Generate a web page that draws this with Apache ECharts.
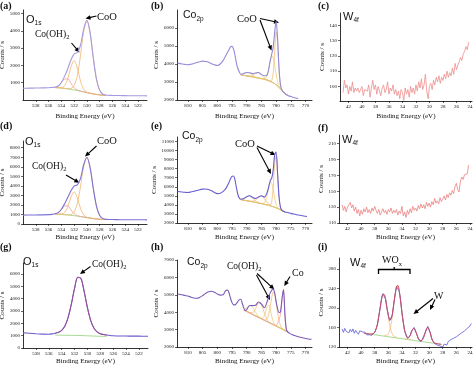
<!DOCTYPE html>
<html><head><meta charset="utf-8">
<script src="https://cdn.jsdelivr.net/npm/echarts@6/dist/echarts.min.js"></script>
<style>html,body{margin:0;padding:0;background:#fff;}#c{width:474px;height:368px;}</style>
</head><body><div id="c"></div>
<script>
// ---------- tick labels ----------
const o1sTicks = [538,536,534,532,530,528,526,524,522];
const co2pTicks = [810,805,800,795,790,785,780,775,770];
const w4fTicks = [42,40,38,36,34,32,30,28,26,24];
const aYTicks = [1000,2000,3000,4000,5000];
const bYTicks = [2000,3000,4000,5000,6000];
const cYTicks = [100,110,120,130,140];
const dYTicks = [0,1000,2000,3000,4000,5000,6000,7000,8000];
const eYTicks = [2000,3000,4000,5000,6000,7000,8000,9000,10000,11000];
const fYTicks = [110,130,150,170,190,210];
const gYTicks = [0,1000,2000,3000,4000,5000,6000];
const hYTicks = [2000,3000,4000,5000,6000,7000];
const iYTicks = [120,160,200,240,280];

// ---------- O1s energies ----------
const o1sE = [540,539,538,537,536,535.5,535,534.5,534,533.5,533,532.5,532,531.5,531,530.5,530,529.5,529,528.5,528,527.5,527,526.5,526,525,524,523,522,521,520.6];
const o1sFitE = [535,534.5,534,533.5,533,532.5,532,531.5,531,530.5,530,529.5,529,528.5,528,527.5,527];

// (a)
const aData = [680,685,690,700,710,725,738,806,1012,1364,1804,2314,2665,2744,3164,4108,4602,3880,2425,1191,559,334,278,270,265,258,252,248,245,242,240];
const aBg = [720,710,690,670,640,610,580,550,510,470,430,390,350,320,300,280,270];
const aCoO = [720,710,690,672,653,664,839,1421,2585,3960,4580,3880,2425,1191,559,334,278];
const aCoOH = [720,710,712,818,1216,1907,2280,1847,1086,618,452,390,350,320,300,280,270];
const aC3 = [738,806,990,1214,1215,963,706,576,513,470,430,390,350,320,300,280,270];

// (d)
const dData = [930,940,950,960,980,1010,1080,1190,1543,2105,2769,3488,3974,4105,4783,6236,7003,5918,3720,1853,894,562,483,470,465,455,450,445,440,438,435];
const dBg = [1050,1030,1010,980,950,910,870,830,780,720,670,620,570,530,500,480,470];
const dCoO = [1050,1030,1010,980,963,992,1264,2153,3930,6018,6970,5918,3720,1853,894,562,483];
const dCoOH = [1050,1030,1043,1198,1798,2818,3370,2738,1628,938,703,620,570,530,500,480,470];
const dC3 = [1080,1190,1510,1887,1908,1498,1080,874,785,720,670,620,570,530,500,480,470];

// (g)
const gData = [1230,1200,1160,1130,1120,1150,1204,1272,1426,1782,2471,3556,4833,5739,5637,4567,3275,2248,1621,1307,1157,1090,1051,1020,1000,980,970,965,960,958,955];
const gBg = [1050,1045,1040,1035,1030,1025,1020,1015,1010,1000,990,980,970,960,950,945,940];
const gPeak = [1204,1272,1426,1782,2471,3556,4833,5739,5637,4567,3275,2248,1621,1307,1157,1090,1051];

// (b)
const bDataE = [813.5,812,811,810,809,808,807,806,805,804,803,802,801,800,799,798,797,796,795.5,795,794.5,794,793.5,793,792.5,792,791,790,789,788,787,786,785,784,783,782,781.5,781,780.5,780,779.5,779,778.5,778,777.5,777,776,775,774,773,772.5];
const bData = [4050,4000,3980,3960,3990,4030,4080,4120,4160,4140,4100,4020,3960,3920,4000,4200,4500,4800,4950,4980,4850,4500,4050,3750,3550,3429,3470,3527,3514,3467,3499,3525,3410,3350,3405,4175,4547,4925,5750,6378,5405,3723,2822,2548,2440,2360,2250,2190,2140,2100,2080];
const bFitE = [792,791,790,789,788,787,786,785,784,783,782,781.5,781,780.5,780,779.5,779,778.5,778,777.5,777,776];
const bBg = [3400,3370,3340,3310,3280,3250,3220,3190,3150,3100,3040,3000,2960,2910,2850,2780,2700,2620,2530,2440,2360,2250];
const bP1 = [3400,3370,3340,3310,3280,3250,3220,3190,3150,3100,3040,3081,3500,4710,5808,5171,3651,2806,2548,2440,2360,2250];
const bP2 = [3400,3370,3340,3310,3280,3250,3220,3190,3173,3386,4173,4466,4385,3950,3420,3014,2772,2636,2530,2440,2360,2250];
const bP3 = [3400,3370,3342,3329,3367,3470,3520,3410,3237,3119,3042,3000,2960,2910,2850,2780,2700,2620,2530,2440,2360,2250];
const bP4 = [3429,3470,3525,3495,3380,3279,3225,3190,3150,3100,3040,3000,2960,2910,2850,2780,2700,2620,2530,2440,2360,2250];

// (e)
const eDataE = [813.5,812,811,810,809,808,807,806,805,804,803,802,801,800,799,798,797,796,795.5,795,794.5,794,793.5,793,792.5,792,791,790,789,788,787,786,785,784,783,782,781.5,781,780.5,780,779.5,779,778.5,778,777.5,777,776,775,774,773,772,771,770,769.5];
const eData = [5480,5420,5390,5370,5420,5500,5580,5680,5740,5760,5700,5560,5380,5250,5280,5500,5850,6500,6900,7150,7200,6800,5900,5150,4750,4617,4694,4901,5006,4834,4701,4872,5002,4863,5420,6661,6951,7817,9528,9831,7464,4865,3699,3393,3290,3220,3150,3060,2990,2920,2860,2800,2740,2720];
const eFitE = [792,791,790,789,788,787,786,785,784,783,782,781.5,781,780.5,780,779.5,779,778.5,778,777.5,777];
const eBg = [4580,4520,4460,4400,4340,4280,4210,4140,4070,3990,3900,3850,3800,3740,3680,3610,3530,3450,3370,3290,3220];
const eP1 = [4580,4520,4460,4400,4340,4280,4210,4140,4070,3990,3970,4366,5940,8502,9410,7334,4835,3699,3393,3290,3220];
const eP2 = [4580,4520,4460,4400,4340,4280,4210,4148,4238,5173,6538,6415,5671,4766,4101,3740,3560,3450,3370,3290,3220];
const eP3 = [4580,4520,4460,4406,4393,4527,4835,4990,4695,4237,3953,3870,3806,3740,3680,3610,3530,3450,3370,3290,3220];
const eP4 = [4617,4694,4901,5000,4781,4454,4247,4144,4070,3990,3900,3850,3800,3740,3680,3610,3530,3450,3370,3290,3220];

// (h)
const hDataE = [813.5,812,811,810,809,808,807,806,805,804,803,802,801,800,799,798,797.5,797,796.5,796,795.5,795,794.5,794,793.5,793,792.5,792,791.5,791,790.5,790,789,788,787,786,785,784,783,782.5,782,781.5,781,780.5,780,779.5,779,778.5,778,777.5,777,776.5,776,775.5,775,774,773,772,771,770,769,768];
const hData = [5050,5000,4960,4930,4870,4820,4800,4850,4950,5080,5180,5200,5150,5050,4980,5000,5150,5260,5270,5100,4800,4550,4430,4420,4500,4620,4720,4740,4500,4250,4100,4150,4384,4380,4399,4583,4472,4255,4628,4913,5111,5263,5324,5117,4606,4202,3969,4029,4774,5300,3850,2980,2862,2800,2740,2680,2620,2570,2530,2490,2460,2440];
const hFitE = [791,790,789,788,787,786,785,784,783,782.5,782,781.5,781,780.5,780,779.5,779,778.5,778,777.5,777,776.5,776];
const hBg = [4120,4050,3960,3870,3790,3710,3620,3540,3450,3410,3370,3330,3290,3250,3200,3160,3120,3080,3030,2990,2950,2900,2860];
const hP1 = [4120,4050,3960,3870,3790,3710,3620,3540,3635,3883,4320,4831,5154,5070,4597,4002,3519,3229,3074,3000,2950,2900,2860];
const hP2 = [4120,4050,3960,3870,3790,3710,3638,3797,4345,4403,4149,3762,3460,3297,3209,3160,3120,3080,3030,2990,2950,2900,2860];
const hP3 = [4120,4050,3972,3968,4196,4534,4444,3946,3548,3447,3382,3330,3290,3250,3200,3160,3120,3080,3030,2990,2950,2900,2860];
const hP4 = [4169,4253,4372,4282,3993,3759,3626,3540,3450,3410,3370,3330,3290,3250,3200,3160,3120,3080,3030,2990,2950,2900,2860];
const hCo = [4120,4050,3960,3870,3790,3710,3620,3540,3450,3410,3370,3330,3290,3250,3200,3360,3570,3880,4730,5290,3850,2980,2862];

// ---------- W4f ----------
const w4fE = [42.8,42.6,42.4,42.2,42.0,41.8,41.6,41.4,41.2,41.0,40.8,40.6,40.4,40.2,40.0,39.8,39.6,39.4,39.2,39.0,38.8,38.6,38.4,38.2,38.0,37.8,37.6,37.4,37.2,37.0,36.8,36.6,36.4,36.2,36.0,35.8,35.6,35.4,35.2,35.0,34.8,34.6,34.4,34.2,34.0,33.8,33.6,33.4,33.2,33.0,32.8,32.6,32.4,32.2,32.0,31.8,31.6,31.4,31.2,31.0,30.8,30.6,30.4,30.2,30.0,29.8,29.6,29.4,29.2,29.0,28.8,28.6,28.4,28.2,28.0,27.8,27.6,27.4,27.2,27.0,26.8,26.6,26.4,26.2,26.0,25.8,25.6,25.4,25.2,25.0,24.8,24.6,24.4,24.2,24.0,23.8];
const cData = [96,104,99,101,95, 100,97,103,96,99, 97,99,96,98,100, 94,98,99,97,101, 93,99,104,98,101, 95,100,97,94,99, 101,96,98,103,95, 99,97,101,95,98, 94,97,92,98,96, 91,99,95,98,93, 100,96,99,95,101, 97,103,99,105,98, 101,108,97,92,100, 102,98,104,101,106, 103,107,102,106,104, 108,105,110,106,109, 107,112,108,115,111, 114,116,119,117,121, 123,126,124,129];
const fData = [133,126,131,124,130, 128,136,129,133,125, 130,122,127,119,126, 121,128,124,130,123, 127,122,129,125,131, 126,122,127,120,124, 128,123,126,121,127, 124,129,122,126,123, 127,120,125,122,131, 119,124,117,126,121, 128,123,131,126,129, 125,132,128,134,129, 133,128,136,131,135, 130,137,133,141,135, 138,134,142,137,140, 144,139,146,142,148, 145,151,147,156,160, 152,149,163,168,165, 171,169,172,183];
const iData = [157,150,158,152,155, 149,156,151,157,148, 154,150,146,153,149, 151,147,150,145,148, 145,149,144,148,150, 157,165,184,199,219, 229,225,218,199,186, 174,178,186,209,226, 244,247,234,216,189, 171,152,146,138,141, 142,152,155,160,151, 146,136,135,131,136, 138,149,155,162,154, 148,135,133,127,129, 124,127,122,124,120, 126,129,124,131,128, 135,131,138,134,141, 138,145,142,149,146, 153,150,158,156,163, 168];
const iFit = [148.2,147.8,147.4,147.0,146.7,146.4,146.6,147.5,150.4,156.4,167.0,182.3,200.5,217.2,227.2,227.0,216.7,200.6,184.9,175.7,176.6,188.2,207.3,228.1,242.9,245.8,235.3,214.9,191.0,169.6,153.9,144.4,139.9,139.9,143.9,150.6,156.9,158.2,153.2,145.1,138.1,134.1,133.0,134.6,139.7,148.1,156.8,160.4,156.0,146.5,137.3,131.3,128.4,127.2,126.6,126.2,125.8,125.4];
const iBgE = [39.6,38,36,34,32,30,28.2];
const iBg = [148.2,145,141,137,133,129,125.4];
const iWO1E = [38.7,38.2,37.95,37.7,37.45,37.2,36.95,36.7,36.45,36.2,35.95,35.7,35.45,35.2,34.7];
const iWO1 = [146,148,152,162,178,201,222,229,221,199,176,158,148,142,139.4];
const iWO2E = [36.65,36.15,35.9,35.65,35.4,35.15,34.9,34.65,34.4,34.15,33.9,33.65,33.4,33.15,32.65];
const iWO2 = [143.3,145,150,162,184,212,237,247,236,210,181,158,145,138,134.3];
const iW1E = [33.5,33.25,33.0,32.75,32.5,32.25,32.0,31.75,31.5,31.25,31.0];
const iW1 = [136,136.5,139,145,154,158.5,153,143.5,136,132.5,131];
const iW2E = [31.45,31.2,30.95,30.7,30.45,30.2,29.95,29.7,29.45,29.2,28.95];
const iW2 = [132,132.4,135.4,143.4,155,160.4,154,141.4,132.4,128.4,126.9];

// ---------- layout ----------
const SERIF = 'Liberation Serif', SANS = 'Liberation Sans';
const panels = [
  {grid:{left:23,top:10,width:124,height:90}, x:[520.6,540], xt:o1sTicks, y:[0,5200], yt:aYTicks, xg:13},
  {grid:{left:177,top:10,width:135,height:90}, x:[767.8,813.7], xt:co2pTicks, y:[2000,7000], yt:bYTicks, xg:13},
  {grid:{left:340,top:13,width:132,height:88}, x:[23.7,43.25], xt:w4fTicks, y:[90.5,148], yt:cYTicks, xg:12},
  {grid:{left:23,top:141,width:124,height:83}, x:[520.6,540], xt:o1sTicks, y:[0,8700], yt:dYTicks, xg:10},
  {grid:{left:177,top:137,width:135,height:86}, x:[767.8,813.7], xt:co2pTicks, y:[2000,11500], yt:eYTicks, xg:11},
  {grid:{left:339,top:135,width:133,height:88}, x:[23.7,43.25], xt:w4fTicks, y:[110,221], yt:fYTicks, xg:11},
  {grid:{left:23,top:263,width:125,height:85}, x:[520.6,540], xt:o1sTicks, y:[0,6900], yt:gYTicks, xg:10},
  {grid:{left:177,top:260,width:135,height:87}, x:[767.8,813.7], xt:co2pTicks, y:[2000,7000], yt:hYTicks, xg:11},
  {grid:{left:339,top:258,width:133,height:89}, x:[23.7,43.25], xt:w4fTicks, y:[120,302], yt:iYTicks, xg:11}
];

const grids = [], xAxes = [], yAxes = [];
const fmt = v => String(v);
panels.forEach((p, i) => {
  grids.push(Object.assign({containLabel:false, outerBoundsMode:'none'}, p.grid));
  xAxes.push({
    type:'value', gridIndex:i, inverse:true, min:p.x[0], max:p.x[1],
    axisLine:{show:true, onZero:false, lineStyle:{color:'#000', width:0.8}},
    axisTick:{show:true, length:2, lineStyle:{color:'#000', width:0.6}, customValues:p.xt},
    axisLabel:{fontSize:5, fontFamily:SERIF, color:'#111', margin:3, customValues:p.xt, formatter:fmt, hideOverlap:false},
    splitLine:{show:false},
    name:'Binding Energy (eV)', nameLocation:'middle', nameGap:p.xg,
    nameTextStyle:{fontSize:7, fontFamily:SERIF, color:'#111'}
  });
  yAxes.push({
    type:'value', gridIndex:i, min:p.y[0], max:p.y[1],
    axisLine:{show:true, onZero:false, lineStyle:{color:'#000', width:0.8}},
    axisTick:{show:true, length:2, lineStyle:{color:'#000', width:0.6}, customValues:p.yt},
    axisLabel:{fontSize:5, fontFamily:SERIF, color:'#111', margin:3, customValues:p.yt, formatter:fmt, hideOverlap:false},
    splitLine:{show:false},
    name:'Counts / s', nameLocation:'middle', nameGap:12, nameRotate:90,
    nameTextStyle:{fontSize:7, fontFamily:SERIF, color:'#111'}
  });
});

const series = [];
function line(i, E, Y, color, width, smooth, z) {
  series.push({type:'line', xAxisIndex:i, yAxisIndex:i, data:E.map((e,k)=>[e,Y[k]]),
    symbol:'none', smooth:smooth, lineStyle:{color:color, width:width}, silent:true, z:z});
}
const OR = '#f2b46c', YE = '#ecc865', PK = '#f0999a', GR = '#8fd173';
// (a)
line(0, o1sFitE, aBg, GR, 0.8, 0.3, 2);
line(0, o1sFitE, aC3, PK, 0.8, 0.3, 3);
line(0, o1sFitE, aCoOH, OR, 0.8, 0.3, 3);
line(0, o1sFitE, aCoO, OR, 0.8, 0.3, 3);
line(0, o1sE, aData, '#a59be0', 1.1, 0.3, 5);
// (b)
line(1, bFitE, bBg, GR, 0.8, 0.3, 2);
line(1, bFitE, bP4, YE, 0.7, 0.3, 3);
line(1, bFitE, bP3, OR, 0.7, 0.3, 3);
line(1, bFitE, bP2, YE, 0.7, 0.3, 3);
line(1, bFitE, bP1, OR, 0.7, 0.3, 3);
line(1, bDataE, bData, '#948bdb', 1.1, 0.3, 5);
// (c)
line(2, w4fE.slice(0, cData.length), cData, '#ee8d8d', 0.8, false, 5);
// (d)
line(3, o1sFitE, dBg, GR, 0.8, 0.3, 2);
line(3, o1sFitE, dC3, PK, 0.8, 0.3, 3);
line(3, o1sFitE, dCoOH, OR, 0.8, 0.3, 3);
line(3, o1sFitE, dCoO, OR, 0.8, 0.3, 3);
line(3, o1sE, dData, '#7d72d6', 1.1, 0.3, 5);
// (e)
line(4, eFitE, eBg, GR, 0.8, 0.3, 2);
line(4, eFitE, eP4, YE, 0.7, 0.3, 3);
line(4, eFitE, eP3, OR, 0.7, 0.3, 3);
line(4, eFitE, eP2, YE, 0.7, 0.3, 3);
line(4, eFitE, eP1, OR, 0.7, 0.3, 3);
line(4, eDataE, eData, '#665ecf', 1.1, 0.3, 5);
// (f)
line(5, w4fE.slice(0, fData.length), fData, '#ec8080', 0.8, false, 5);
// (g)
line(6, o1sFitE, gBg, GR, 0.8, 0.3, 2);
line(6, o1sE, gData, '#6a5ccc', 1.1, 0.3, 4);
line(6, o1sFitE, gPeak, '#a04a88', 0.9, 0.3, 5);
// (h)
line(7, hFitE, hBg, GR, 0.8, 0.3, 2);
line(7, hFitE, hP4, YE, 0.7, 0.3, 3);
line(7, hFitE, hP3, OR, 0.7, 0.3, 3);
line(7, hFitE, hP2, YE, 0.7, 0.3, 3);
line(7, hFitE, hP1, OR, 0.7, 0.3, 3);
line(7, hFitE, hCo, PK, 0.7, 0.3, 3);
line(7, hDataE, hData, '#7b5cb8', 1.1, 0.3, 5);
// (i)
line(8, iBgE, iBg, GR, 0.8, 0.3, 2);
line(8, iWO1E, iWO1, OR, 0.7, 0.3, 3);
line(8, iWO2E, iWO2, OR, 0.7, 0.3, 3);
line(8, iW1E, iW1, OR, 0.7, 0.3, 3);
line(8, iW2E, iW2, OR, 0.7, 0.3, 3);
line(8, w4fE, iData, '#6b6bd8', 0.9, false, 4);
line(8, w4fE.slice(16, 16 + iFit.length), iFit, '#c84a6c', 1.0, 0.3, 5);

// ---------- annotations ----------
const g = [];
const mctx = document.createElement('canvas').getContext('2d');
function tw(s, size, fam, weight) { mctx.font = (weight||'normal') + ' ' + size + 'px "' + fam + '"'; return mctx.measureText(s).width; }
function txt(x, y, s, size, fam, weight) {
  g.push({type:'text', x:x, y:y, silent:true, style:{text:s, fontSize:size, fontFamily:fam, fontWeight:weight||'normal', fill:'#111', verticalAlign:'top', align:'left'}});
}
function subTxt(x, y, s, sub, size, subSize, fam) {
  txt(x, y, s, size, fam);
  txt(x + tw(s, size, fam), y + size * 0.5, sub, subSize, fam);
}
function arrow(x1, y1, x2, y2) {
  const dx = x2 - x1, dy = y2 - y1, L = Math.hypot(dx, dy), ux = dx / L, uy = dy / L;
  const hl = 5, hw = 2.3, bx = x2 - ux * hl, by = y2 - uy * hl;
  g.push({type:'line', silent:true, shape:{x1:x1, y1:y1, x2:bx + ux, y2:by + uy}, style:{stroke:'#000', lineWidth:1.1}});
  g.push({type:'polygon', silent:true, shape:{points:[[x2, y2], [bx - uy * hw, by + ux * hw], [bx + uy * hw, by - ux * hw]]}, style:{fill:'#000'}});
}
// panel letters
[['(a)',0,1],['(b)',151,1],['(c)',318,1],['(d)',0,121],['(e)',151,121],['(f)',318,123],['(g)',0,242],['(h)',151,242],['(i)',318,242]]
  .forEach(a => txt(a[1], a[2], a[0], 10, SERIF, 'bold'));
// element labels
subTxt(26, 14.5, 'O', '1s', 11, 6.5, SANS);
subTxt(183, 10, 'Co', '2p', 10.5, 6.5, SANS);
subTxt(343, 11, 'W', '4f', 11, 6.5, SANS);
subTxt(25, 136, 'O', '1s', 11, 6.5, SANS);
subTxt(182, 131, 'Co', '2p', 10.5, 6.5, SANS);
subTxt(342, 134, 'W', '4f', 11, 6.5, SANS);
subTxt(23, 256, 'O', '1s', 11, 6.5, SANS);
subTxt(187, 257, 'Co', '2p', 10.5, 6.5, SANS);
subTxt(350, 257, 'W', '4f', 11, 6.5, SANS);
// (a)
txt(97, 11.5, 'CoO', 10.5, SERIF);
subTxt(35, 29.5, 'Co(OH)', '2', 9.5, 6.5, SERIF);
arrow(96.5, 16, 85.5, 18.5);
arrow(71.5, 43, 79.5, 52.5);
// (b)
txt(237, 13.5, 'CoO', 10.5, SERIF);
arrow(260, 18.5, 279, 22.5);
arrow(260, 20, 271.5, 50.5);
// (d)
txt(97, 135.5, 'CoO', 10.5, SERIF);
subTxt(32, 161.5, 'Co(OH)', '2', 9.5, 6.5, SERIF);
arrow(96.5, 146, 85, 156.5);
arrow(66, 175, 79.3, 182.7);
// (e)
txt(235, 138.5, 'CoO', 10.5, SERIF);
arrow(257, 146, 275.5, 155);
arrow(257, 147.5, 271, 174);
// (g)
subTxt(92, 259, 'Co(OH)', '2', 9.5, 6.5, SERIF);
arrow(90.5, 266.5, 80, 274);
// (h)
subTxt(227, 261, 'Co(OH)', '2', 9.5, 6.5, SERIF);
txt(292, 268.5, 'Co', 10, SERIF);
arrow(257, 273.5, 274.3, 289.3);
arrow(256.5, 275, 270, 300);
arrow(290, 276.5, 284.3, 286);
// (i)
subTxt(382, 255.5, 'WO', 'x', 10, 6.5, SERIF);
g.push({type:'polyline', silent:true, shape:{points:[[378.5,274],[378.5,269.5],[410,269.5],[410,274]]}, style:{stroke:'#000', lineWidth:1.3, fill:null}});
g.push({type:'line', silent:true, shape:{x1:394.2, y1:269.5, x2:394.2, y2:267}, style:{stroke:'#000', lineWidth:1.3}});
txt(434, 291, 'W', 10, SERIF);
arrow(433, 298.5, 413.5, 314);
arrow(435, 299.5, 430, 310);

const chart = echarts.init(document.getElementById('c'), null, {renderer:'canvas'});
chart.setOption({
  animation:false, backgroundColor:'#fff',
  grid:grids, xAxis:xAxes, yAxis:yAxes, series:series, graphic:g
});
</script></body></html>
